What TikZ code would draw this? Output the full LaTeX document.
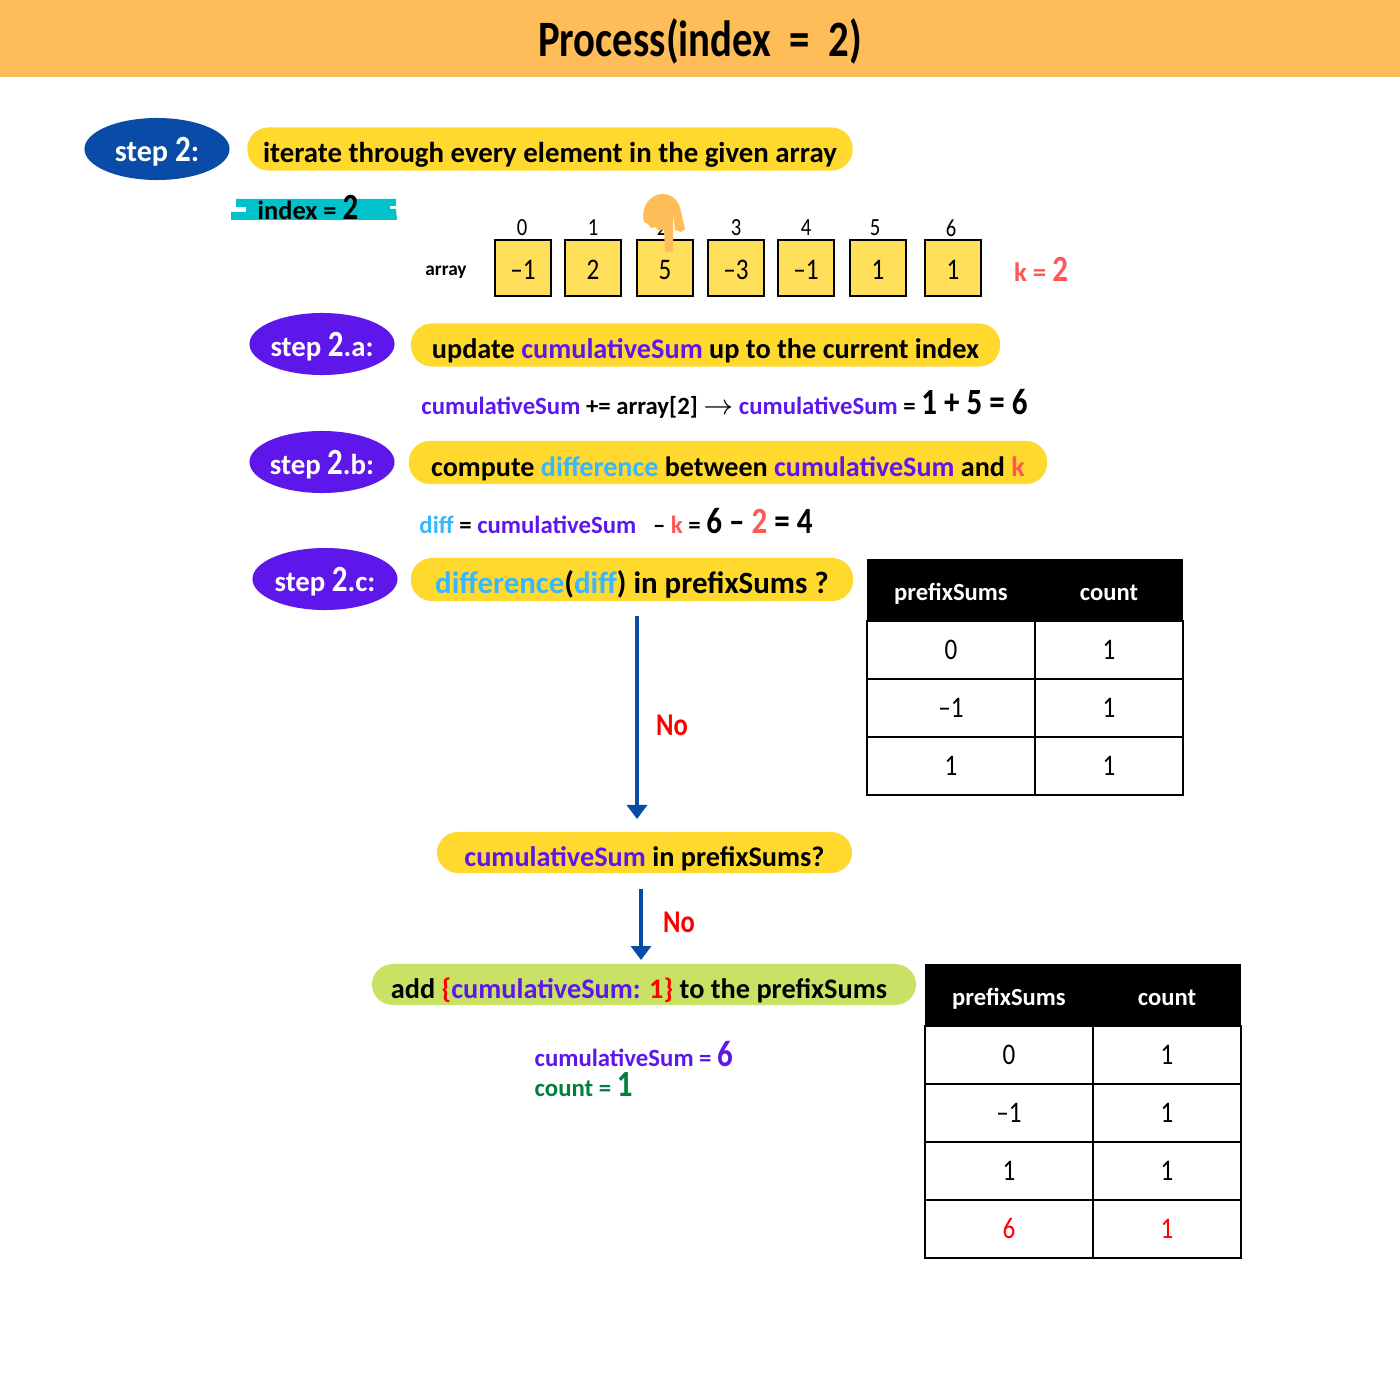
\documentclass[tikz,border=0pt]{standalone}
\usepackage{fontspec}
\setmainfont{Carlito}
\newfontfamily\numfont[FakeStretch=0.84,Ligatures=TeX]{Carlito}
\newfontfamily\titlefont[FakeStretch=0.8]{Carlito}
\usetikzlibrary{shapes.geometric,arrows.meta}
\definecolor{headorange}{HTML}{FFBD59}
\definecolor{pillyellow}{HTML}{FFD92E}
\definecolor{cellyellow}{HTML}{FFDE59}
\definecolor{pillgreen}{HTML}{C9E265}
\definecolor{stepblue}{HTML}{0B4BA8}
\definecolor{steppurple}{HTML}{5E17EB}
\definecolor{lightblue}{HTML}{38B6FF}
\definecolor{softred}{HTML}{FF5757}
\definecolor{countgreen}{HTML}{00803C}
\definecolor{markteal}{HTML}{00C2CB}
\newcommand{\fsz}[1]{\fontsize{#1}{#1}\selectfont}
\newcommand{\cum}{\textcolor{steppurple}{cumulativeSum}}
\newcommand{\tallnum}[1]{{\numfont\fsz{10.5}#1}}
\begin{document}
\begin{tikzpicture}[x=0.01cm, y=-0.01cm,
    stepblob/.style={ellipse, fill=steppurple, minimum width=1.45cm, minimum height=0.62cm, inner sep=0pt},
    steptext/.style={inner sep=0pt, text=white, text height=0.24cm, text depth=0pt, font=\bfseries\fsz{8.2}},
    pill/.style={rectangle, rounded corners=0.21cm, fill=pillyellow, minimum height=0.43cm, inner sep=0pt, text height=0.27cm, text depth=0pt, font=\bfseries\fsz{8.05}},
    calc/.style={inner sep=0pt, font=\bfseries\fsz{7.05}},
    arraybox/.style={rectangle, draw=black, line width=0.6pt, fill=cellyellow, minimum width=0.56cm, minimum height=0.56cm, inner sep=0pt, text height=0.23cm, text depth=0pt, font=\numfont\fsz{8.5}},
    idx/.style={inner sep=0pt, font=\numfont\fsz{7}},
    headcell/.style={rectangle, fill=black, text=white, inner sep=0pt, text height=0.2cm, text depth=0pt, font=\bfseries\fsz{7}},
    cell/.style={rectangle, draw=black, line width=0.6pt, inner sep=0pt, font=\numfont\fsz{8.5}},
    arrow/.style={-{Triangle[width=0.2cm,length=0.14cm]}, stepblue, line width=1.4pt},
    nolabel/.style={inner sep=0pt, text=red, font=\numfont\bfseries\fsz{9}}
]
    \useasboundingbox (0,0) rectangle (1400,1400);

    % Title band
    \node[rectangle, fill=headorange, minimum width=14cm, minimum height=0.775cm, inner sep=0pt] (band) at (700,38.5) {};
    \node[inner sep=0pt, font=\titlefont\bfseries\fsz{14.5}] (title) at (700,41) {Process(index ~=~ 2)};

    % Step 2
    \node[stepblob, fill=stepblue] (step2) at (157,149) {};
    \node[steptext, font=\bfseries\fsz{8.6}] (step2text) at (157,149) {step {\tallnum{2}}:};
    \node[pill, minimum width=6.05cm, font=\bfseries\fsz{8.2}] (iter) at (550,149) {iterate through every element in the given array};

    % Index marker
    \fill[markteal] (236,199) -- (396,199) -- (396,206) -- (390,206) -- (390,209) -- (396,209) -- (397,220) -- (231,220) -- (231,212) -- (246,212) -- (246,207) -- (236,207) -- cycle;
    \node[inner sep=0pt, font=\bfseries\fsz{7.5}] (marktext) at (308,207) {index = \tallnum{2}};

    % Array
    \node[inner sep=0pt, font=\bfseries\fsz{5.5}] (arr) at (446,272) {array};
    \foreach \i/\xpos/\val in {0/523/--1, 1/593/2, 2/665/5, 3/736/--3, 4/806/--1, 5/878/1, 6/953/1} {
        \node[arraybox] (a\i) at (\xpos,268) {\val};
    }
    \foreach \i/\xpos in {0/522, 1/593, 2/662, 3/736, 4/806, 5/875, 6/951} {
        \node[idx] (i\i) at (\xpos,228) {\i};
    }
    \node[inner sep=0pt, text=softred, font=\bfseries\fsz{7.6}] (k) at (1041,269) {k = \tallnum{2}};

    % Pointing hand
    \fill[headorange] (665,252) -- (664,229) -- (659,231) -- (655,227) -- (651,228) -- (648,224) -- (644,222)
        .. controls (640,205) and (652,194) .. (662,194)
        .. controls (675,194) and (680,204) .. (681,212) -- (685,229) -- (681,232) -- (675,230) -- (673,213) -- (673,252) -- cycle;

    % Step 2.a
    \node[stepblob] (step2a) at (322,344) {};
    \node[steptext] (step2atext) at (322,344) {step {\tallnum{2}}.a:};
    \node[pill, minimum width=5.89cm] (update) at (705.5,345) {update \cum{} up to the current index};
    \node[calc] (calca) at (724.5,404) {\cum{} += array[2] {\fsz{8}$\rightarrow$} \cum{} = \tallnum{1 + 5 = 6}};

    % Step 2.b
    \node[stepblob] (step2b) at (322,462) {};
    \node[steptext] (step2btext) at (322,462) {step {\tallnum{2}}.b:};
    \node[pill, minimum width=6.38cm, font=\bfseries\fsz{8}] (compute) at (728,462.5) {compute \textcolor{lightblue}{difference} between \cum{} and \textcolor{softred}{k}};
    \node[calc] (calcb) at (616,521) {\textcolor{lightblue}{diff} = \cum{} ~~-- \textcolor{softred}{k} = \tallnum{6 -- \textcolor{softred}{2} = 4}};

    % Step 2.c
    \node[stepblob] (step2c) at (325,579) {};
    \node[steptext] (step2ctext) at (325,579) {step {\tallnum{2}}.c:};
    \node[pill, minimum width=4.42cm, font=\bfseries\fsz{8.8}] (inpre) at (632,579.5) {\textcolor{lightblue}{difference}(\textcolor{lightblue}{diff}) in prefixSums ?};

    % First table
    \node[headcell, minimum width=1.68cm, minimum height=0.62cm] (h1a) at (951,590) {prefixSums};
    \node[headcell, minimum width=1.48cm, minimum height=0.62cm] (h1b) at (1109,590) {count};
    \foreach \r/\ypos/\val in {1/650/0, 2/708/--1, 3/766/1} {
        \node[cell, minimum width=1.68cm, minimum height=0.58cm] (c1a\r) at (951,\ypos) {\val};
        \node[cell, minimum width=1.48cm, minimum height=0.58cm] (c1b\r) at (1109,\ypos) {1};
    }

    % No branch
    \coordinate (notop) at (637,616);
    \coordinate (nobot) at (637,819);
    \draw[arrow] (notop) -- (nobot);
    \node[nolabel] (no1) at (672,725) {No};
    \node[pill, minimum width=4.15cm, minimum height=0.41cm] (incum) at (644.5,852.5) {\cum{} in prefixSums?};
    \coordinate (notop2) at (641,889);
    \coordinate (nobot2) at (641,960);
    \draw[arrow] (notop2) -- (nobot2);
    \node[nolabel] (no2) at (679,922) {No};

    % Add step
    \node[pill, fill=pillgreen, minimum width=5.44cm, minimum height=0.41cm] (add) at (644,984.5) {};
    \node[pill, fill=none, minimum height=0.41cm] (addtext) at (639,984.5) {add \textcolor{red}{\{}\cum\textcolor{steppurple}{:} \textcolor{red}{1\}} to the prefixSums};
    \node[inner sep=0pt, anchor=west, font=\bfseries\fsz{7.05}, text=steppurple] (cumval) at (534,1054) {cumulativeSum = \tallnum{6}};
    \node[inner sep=0pt, anchor=west, font=\bfseries\fsz{7.05}, text=countgreen] (countval) at (534,1085) {count = \tallnum{1}};

    % Second table
    \node[headcell, minimum width=1.68cm, minimum height=0.62cm] (h2a) at (1009,995) {prefixSums};
    \node[headcell, minimum width=1.48cm, minimum height=0.62cm] (h2b) at (1167,995) {count};
    \foreach \r/\ypos/\val in {1/1055/0, 2/1113/--1, 3/1171/1} {
        \node[cell, minimum width=1.68cm, minimum height=0.58cm] (c2a\r) at (1009,\ypos) {\val};
        \node[cell, minimum width=1.48cm, minimum height=0.58cm] (c2b\r) at (1167,\ypos) {1};
    }
    \node[cell, text=red, minimum width=1.68cm, minimum height=0.58cm] (c2a4) at (1009,1229) {6};
    \node[cell, text=red, minimum width=1.48cm, minimum height=0.58cm] (c2b4) at (1167,1229) {1};
\end{tikzpicture}
\end{document}
